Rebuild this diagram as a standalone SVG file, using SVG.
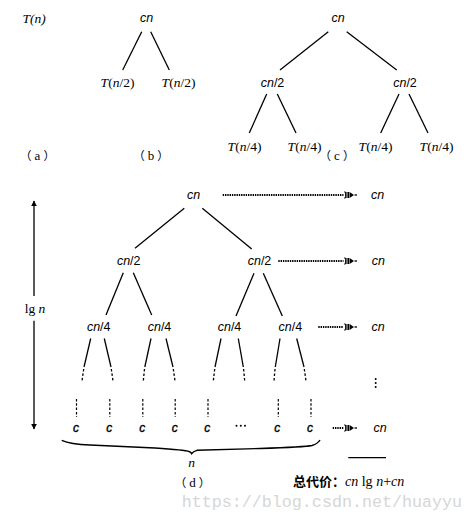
<svg xmlns="http://www.w3.org/2000/svg" xmlns:xlink="http://www.w3.org/1999/xlink" width="473" height="521" viewBox="0 0 473 521">
<style>
  .s { font-family: "Liberation Sans", Arial, sans-serif; font-size: 12.5px; fill: #000; text-anchor: middle; }
  .t { font-family: "Liberation Serif", "Times New Roman", serif; font-size: 13.5px; fill: #000; text-anchor: middle; }
  .i { font-style: italic; }
  .lbl { font-family: "Liberation Serif", "Noto Sans CJK SC", serif; font-size: 13px; fill: #000; text-anchor: middle; letter-spacing: 3px; }
  .p { font-family: "Noto Sans CJK SC", sans-serif; font-size: 11.5px; }
  .leaf { font-family: "Liberation Sans", Arial, sans-serif; font-size: 12px; font-style: italic; fill: #000; text-anchor: middle; stroke: #000; stroke-width: 0.35; }
  .e { stroke: #000; stroke-width: 1.3; fill: none; }
  .ed { stroke: #000; stroke-width: 1.3; fill: none; stroke-dasharray: 2.5 2; }
  .vd { stroke: #000; stroke-width: 1.2; fill: none; stroke-dasharray: 2.5 1.8; }
  .dot { stroke: #000; stroke-width: 1.8; fill: none; stroke-dasharray: 1.4 0.9; }
</style>
<defs>
  <g id="tip">
    <path d="M0,-3 H1.5 V3 H0" stroke="#000" stroke-width="0.9" fill="none"/>
    <line x1="3" y1="-3" x2="3" y2="3" stroke="#000" stroke-width="1.2"/>
    <line x1="4.6" y1="-3" x2="4.6" y2="3" stroke="#000" stroke-width="1.2"/>
    <path d="M5.6,-3 L10,0 L5.6,3 Z" fill="#000"/>
    <line x1="10.5" y1="0" x2="13" y2="0" stroke="#000" stroke-width="1.3"/>
  </g>
  <marker id="ah" viewBox="0 0 10 10" refX="9" refY="5" markerWidth="6" markerHeight="9" markerUnits="userSpaceOnUse" orient="auto">
    <path d="M0,0 L10,5 L0,10 Z" fill="#000"/>
  </marker>
</defs>
<rect width="473" height="521" fill="#fff"/>

<!-- (a) -->
<g id="a-root"><text class="t i" x="34" y="23">T(n)</text></g>
<g id="a-label"><text class="lbl" x="39" y="159.5"><tspan class="p">（</tspan>a<tspan class="p">）</tspan></text></g>

<!-- (b) -->
<g id="b-root"><text class="s i" x="146.5" y="22">cn</text></g>
<g id="b-left"><text class="t" x="117.5" y="87"><tspan class="i">T</tspan>(<tspan class="i">n</tspan>/2)</text></g>
<g id="b-right"><text class="t" x="178.5" y="87"><tspan class="i">T</tspan>(<tspan class="i">n</tspan>/2)</text></g>
<g id="b-label"><text class="lbl" x="152.5" y="159.5"><tspan class="p">（</tspan>b<tspan class="p">）</tspan></text></g>

<!-- (c) -->
<g id="c-root"><text class="s i" x="338" y="22">cn</text></g>
<g id="c-l"><text class="s" x="272.5" y="86.5"><tspan class="i">cn</tspan>/2</text></g>
<g id="c-r"><text class="s" x="405" y="86.5"><tspan class="i">cn</tspan>/2</text></g>
<g id="c-ll"><text class="t" x="244.5" y="150.5"><tspan class="i">T</tspan>(<tspan class="i">n</tspan>/4)</text></g>
<g id="c-lr"><text class="t" x="304.5" y="150.5"><tspan class="i">T</tspan>(<tspan class="i">n</tspan>/4)</text></g>
<g id="c-rl"><text class="t" x="375.5" y="150.5"><tspan class="i">T</tspan>(<tspan class="i">n</tspan>/4)</text></g>
<g id="c-rr"><text class="t" x="436.5" y="150.5"><tspan class="i">T</tspan>(<tspan class="i">n</tspan>/4)</text></g>
<g id="c-label"><text class="lbl" x="338.5" y="159.5"><tspan class="p">（</tspan>c<tspan class="p">）</tspan></text></g>

<!-- (d) nodes -->
<g id="d-root"><text class="s i" x="193.5" y="198.5">cn</text></g>
<g id="d-l"><text class="s" x="128.7" y="265"><tspan class="i">cn</tspan>/2</text></g>
<g id="d-r"><text class="s" x="259.5" y="265"><tspan class="i">cn</tspan>/2</text></g>
<g id="d-ll"><text class="s" x="98.7" y="331"><tspan class="i">cn</tspan>/4</text></g>
<g id="d-lr"><text class="s" x="159.5" y="331"><tspan class="i">cn</tspan>/4</text></g>
<g id="d-rl"><text class="s" x="229.5" y="331"><tspan class="i">cn</tspan>/4</text></g>
<g id="d-rr"><text class="s" x="290.3" y="331"><tspan class="i">cn</tspan>/4</text></g>
<g id="d-leaves">
  <text class="leaf" x="76" y="432">c</text>
  <text class="leaf" x="109.3" y="432">c</text>
  <text class="leaf" x="142.3" y="432">c</text>
  <text class="leaf" x="174.7" y="432">c</text>
  <text class="leaf" x="207.3" y="432">c</text>
  <circle cx="236.5" cy="425.8" r="1"/>
  <circle cx="240.8" cy="425.8" r="1"/>
  <circle cx="245" cy="425.8" r="1"/>
  <text class="leaf" x="277.3" y="432">c</text>
  <text class="leaf" x="310" y="432">c</text>
</g>

<!-- right column costs -->
<g id="cost-1"><text class="s i" x="377.5" y="198.5">cn</text></g>
<g id="cost-2"><text class="s i" x="378.3" y="264.5">cn</text></g>
<g id="cost-3"><text class="s i" x="378" y="330.5">cn</text></g>
<g id="cost-dots">
  <circle cx="375.7" cy="379" r="1"/>
  <circle cx="375.7" cy="383" r="1"/>
  <circle cx="375.7" cy="387" r="1"/>
</g>
<g id="cost-4"><text class="s i" x="380" y="432">cn</text></g>
<line x1="348.3" y1="457.7" x2="386" y2="457.7" stroke="#000" stroke-width="1.2"/>
<g id="total"><text font-family="'Liberation Serif', 'Noto Sans CJK SC', serif" font-size="14" x="293" y="485.5"><tspan font-family="'Noto Sans CJK SC', sans-serif" font-weight="bold" font-size="13">总代价：</tspan><tspan font-style="italic">cn</tspan> lg <tspan font-style="italic">n</tspan>+<tspan font-style="italic">cn</tspan></text></g>

<!-- height arrow -->
<g id="height">
  <line x1="34" y1="296" x2="34" y2="201" class="e" marker-end="url(#ah)"/>
  <line x1="34" y1="320.7" x2="34" y2="429" class="e" marker-end="url(#ah)"/>
  <text class="t" x="35" y="312.5">lg <tspan class="i">n</tspan></text>
</g>

<!-- brace -->
<g id="brace">
  <path d="M61.7,440.3 C70,444 78,444.5 90,445 L155,448 C170,449 185,450 189,451.5 Q191,452.3 191.7,453.7 Q193,451.5 197,450.3 L260,448.5 C290,447.5 305,447 312,445.5 Q318,443.5 320,440" stroke="#000" stroke-width="1.4" fill="none"/>
  <text class="t i" x="191.5" y="467">n</text>
  <text class="lbl" x="194" y="487"><tspan class="p">（</tspan>d<tspan class="p">）</tspan></text>
</g>

<!-- connectors -->
<g id="connectors">
  <line class="e" x1="141.7" y1="31.7" x2="122.7" y2="70"/>
  <line class="e" x1="150.7" y1="31.7" x2="169.3" y2="70"/>
  <line class="e" x1="328.3" y1="31.7" x2="280" y2="70"/>
  <line class="e" x1="346.7" y1="31.7" x2="396.7" y2="70"/>
  <line class="e" x1="266.7" y1="94" x2="249.3" y2="133"/>
  <line class="e" x1="277.3" y1="94" x2="296" y2="133"/>
  <line class="e" x1="399" y1="94" x2="380.7" y2="133"/>
  <line class="e" x1="409" y1="94" x2="428" y2="133"/>
  <line class="e" x1="184.3" y1="208.3" x2="135" y2="248.3"/>
  <line class="e" x1="202.3" y1="208.3" x2="251.7" y2="249"/>
  <line class="e" x1="123.3" y1="272.7" x2="106" y2="315"/>
  <line class="e" x1="133.3" y1="272.7" x2="151.7" y2="315"/>
  <line class="e" x1="254" y1="273.3" x2="236" y2="316"/>
  <line class="e" x1="263.3" y1="273.3" x2="282.3" y2="316"/>
  <line class="e" x1="90.7" y1="338.5" x2="84" y2="367"/>
  <line class="ed" x1="83.7" y1="369" x2="82" y2="381"/>
  <line class="e" x1="104.3" y1="338.5" x2="111" y2="367"/>
  <line class="ed" x1="111.3" y1="369" x2="113" y2="381"/>
  <line class="e" x1="151" y1="338.5" x2="144.8" y2="367"/>
  <line class="ed" x1="144.5" y1="369" x2="143.3" y2="381"/>
  <line class="e" x1="166" y1="338.5" x2="173" y2="367"/>
  <line class="ed" x1="173.3" y1="369" x2="175" y2="381"/>
  <line class="e" x1="221" y1="338.5" x2="215" y2="367"/>
  <line class="ed" x1="214.7" y1="369" x2="213.3" y2="381"/>
  <line class="e" x1="238.3" y1="338.5" x2="243.3" y2="367"/>
  <line class="ed" x1="243.6" y1="369" x2="244.7" y2="381"/>
  <line class="e" x1="280" y1="338.5" x2="275.3" y2="367"/>
  <line class="ed" x1="275" y1="369" x2="274" y2="381"/>
  <line class="e" x1="296.7" y1="338.5" x2="304" y2="367"/>
  <line class="ed" x1="304.3" y1="369" x2="306" y2="381"/>
  <line class="vd" x1="76.5" y1="399" x2="76.5" y2="417"/>
  <line class="vd" x1="109.8" y1="399" x2="109.8" y2="417"/>
  <line class="vd" x1="142.8" y1="399" x2="142.8" y2="417"/>
  <line class="vd" x1="175.2" y1="399" x2="175.2" y2="417"/>
  <line class="vd" x1="208" y1="399" x2="208" y2="417"/>
  <line class="vd" x1="278.3" y1="399" x2="278.3" y2="417"/>
  <line class="vd" x1="311" y1="399" x2="311" y2="417"/>
  <line class="dot" x1="222.7" y1="195" x2="343.5" y2="195"/>
  <use xlink:href="#tip" x="344" y="195"/>
  <line class="dot" x1="278.3" y1="261" x2="343.5" y2="261"/>
  <use xlink:href="#tip" x="344" y="261"/>
  <line class="dot" x1="318.3" y1="327" x2="343.5" y2="327"/>
  <use xlink:href="#tip" x="344" y="327"/>
  <line class="dot" x1="332.7" y1="428" x2="343.5" y2="428"/>
  <use xlink:href="#tip" x="344" y="428"/>
</g>

<text x="181.7" y="507" font-family="'Liberation Mono', 'Courier New', monospace" font-size="16.7" fill="#d6d6d6">https://blog.csdn.net/huayyu</text>
</svg>
